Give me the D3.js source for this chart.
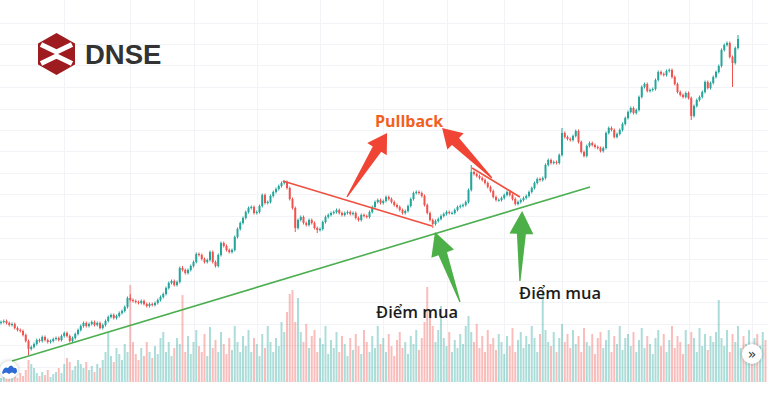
<!DOCTYPE html>
<html><head><meta charset="utf-8">
<script src="https://cdn.jsdelivr.net/npm/d3@7/dist/d3.min.js"></script>
<style>
html,body{margin:0;padding:0;background:#fff;}
svg{display:block;}
</style></head>
<body>
<svg id="chart" width="768" height="419"></svg>
<script>
// ---------- DATA ----------
const closes = [7.8,7.9,7.7,7.5,7.6,7.2,7.0,6.9,6.5,5.9,
5.1,5.3,5.6,6.0,5.9,6.3,6.0,5.8,5.9,6.1,
6.2,6.0,6.4,6.7,6.4,5.9,6.2,6.6,7.0,7.4,
7.7,7.4,7.6,7.8,7.5,7.7,7.2,7.5,7.9,8.3,
8.5,8.2,8.4,8.7,8.9,9.3,10.2,10.0,9.9,9.8,
9.7,9.9,9.6,9.4,9.6,9.5,9.7,10.0,10.3,10.6,
11.2,11.7,11.9,11.5,11.8,13.2,13.0,12.7,13.0,13.4,
13.8,14.6,14.5,14.1,13.8,14.0,14.8,13.8,13.4,14.5,
15.7,15.4,15.0,14.8,15.0,16.3,17.1,17.7,18.2,18.8,
19.2,19.3,18.7,18.8,19.4,20.5,19.7,19.8,20.4,20.8,
21.1,21.4,21.7,21.8,21.2,20.1,19.2,17.2,18.0,18.3,
17.7,17.5,18.0,17.7,17.2,17.0,17.1,17.8,18.3,18.5,
18.7,18.8,19.0,18.7,18.5,18.7,18.8,18.6,18.7,18.2,
18.0,18.5,18.4,18.3,18.8,19.3,19.8,20.0,19.7,19.9,
20.3,20.1,19.8,19.5,19.3,19.0,18.7,18.9,19.4,20.1,
20.7,20.8,20.7,20.4,19.5,18.7,18.0,17.6,17.9,18.1,
18.4,18.6,18.8,18.7,18.7,19.0,19.3,19.4,19.5,19.8,
21.0,22.8,22.6,22.4,22.2,22.0,21.7,21.3,20.9,20.3,
20.0,20.0,20.2,20.5,20.8,20.5,20.1,19.6,19.8,20.0,
20.2,20.4,20.8,21.2,21.7,22.1,22.0,22.2,23.5,24.0,
23.7,23.8,23.7,24.5,26.7,26.3,26.1,26.0,26.4,26.9,
25.8,24.8,24.4,25.4,25.7,25.5,25.3,25.2,24.9,25.2,
26.7,27.2,27.0,26.3,26.6,27.0,27.6,28.2,28.8,29.2,
28.7,29.0,30.3,31.3,31.6,30.9,31.0,31.1,32.0,32.8,
32.6,32.5,32.9,33.0,32.3,31.6,30.8,30.5,30.3,30.7,
30.2,28.4,29.4,30.0,30.3,30.8,31.8,31.2,31.7,32.3,
32.8,33.4,35.0,35.5,35.7,34.3,33.7,35.2,36.1];
const firstOpen = 7.7;
// notable long wicks
const wickExtremes = [
  {i:10, low:4.5},{i:47, high:10.6},{i:66, high:13.4},{i:107, low:16.8},{i:115, low:16.7},
  {i:157, low:17.2},{i:171, high:23.5},{i:204, high:27.2},{i:251, low:28.0},
  {i:266, low:31.3},{i:268, high:36.5}
];
const volumes = [4,6,3,8,5,7,4,9,6,12,
22,18,14,9,6,10,7,12,5,8,
10,14,9,18,24,20,12,16,22,18,
14,20,12,16,10,18,14,22,30,50,
26,20,34,28,22,38,30,97,40,28,
22,34,26,40,30,24,36,28,44,50,
30,40,26,34,44,38,87,30,46,28,
40,52,36,30,48,26,55,34,42,30,
50,38,28,44,32,56,40,30,46,36,
52,30,44,38,26,48,34,56,40,30,
44,36,60,50,70,88,92,60,84,50,
40,58,34,46,52,30,44,38,56,28,
42,34,50,30,46,38,26,44,32,48,
36,28,52,40,30,46,34,56,38,44,
30,48,36,26,42,50,34,40,28,46,
38,52,32,44,60,95,70,56,40,52,
76,44,36,50,30,42,34,48,38,56,
66,50,40,58,34,46,30,52,38,44,
32,48,40,28,46,36,54,30,42,50,
34,46,38,56,44,30,48,90,52,40,
36,50,30,44,58,40,48,34,52,38,
46,30,54,40,36,48,28,44,50,34,
42,52,30,46,38,56,32,44,48,36,
50,30,42,54,34,46,38,28,44,52,
36,48,30,42,56,34,46,40,28,52,
38,50,44,30,54,36,48,32,46,40,
50,82,44,36,52,30,48,40,56,34,
46,38,52,30,44,48,36,50,42];
// direction of the volume bars drawn past the last visible candle
const tailVolumeUp = [1,0,1,1,0,1,0,1,1,0];
// grid
const gridPrices = [37.75,35.6,33.45,31.3,29.15,27.0,24.85,22.7,20.55,18.4,16.25,14.1,11.95,9.8,7.65,5.5,3.35];
const gridCandles = [23,47,70,93,116,139,162,183,204,228,250,273];
// annotations (candle index, price)
const supportLine = [{i:4, p:3.9},{i:214.2, p:21.3}];
const pullbackLines = [
  [{i:102.5, p:21.9},{i:156.7, p:17.4}],
  [{i:171.3, p:23.2},{i:188.7, p:20.3}]
];
const redArrows = [
  {from:{i:125.8, p:20.3}, to:{i:140.4, p:26.7}},
  {from:{i:178.5, p:22.2}, to:{i:160.4, p:27.2}}
];
const greenArrows = [
  {from:{i:166.9, p:9.8}, to:{i:157.8, p:16.8}},
  {from:{i:188.7, p:11.9}, to:{i:189.5, p:18.9}}
];
const labels = [
  {text:"Pullback", i:148.4, p:27.3, kind:"pull"},
  {text:"Điểm mua", i:151.3, p:8.2, kind:"buy"},
  {text:"Điểm mua", i:203.3, p:10.1, kind:"buy"}
];

// ---------- BUILD ----------
const svg = d3.select("#chart");
const W = 768, H = 419;
const x = d3.scaleLinear().domain([0, 268]).range([1, 738]);
const y = d3.scaleLinear().domain([0, 40]).range([400, 0]);
const yv = d3.scaleLinear().domain([0, 100]).range([382, 282]);

const UP = "#26a69a", DN = "#ef5350";

const candles = closes.map((c, i) => {
  const o = i === 0 ? firstOpen : closes[i - 1];
  let hi = Math.max(o, c) + 0.15, lo = Math.min(o, c) - 0.15;
  const w = wickExtremes.find(e => e.i === i);
  if (w && w.high !== undefined) hi = w.high;
  if (w && w.low !== undefined) lo = w.low;
  return {i, o, h: hi, l: lo, c, up: c >= o};
});

// grid
const grid = svg.append("g").attr("stroke", "#f1f3f6").attr("stroke-width", 1);
grid.selectAll("line.h").data(gridPrices).enter().append("line")
  .attr("x1", 0).attr("x2", W)
  .attr("y1", d => Math.round(y(d)) + 0.5).attr("y2", d => Math.round(y(d)) + 0.5);
grid.selectAll("line.v").data(gridCandles).enter().append("line")
  .attr("y1", 0).attr("y2", 382)
  .attr("x1", d => Math.round(x(d)) + 0.5).attr("x2", d => Math.round(x(d)) + 0.5);

// volume
const vol = svg.append("g");
vol.selectAll("rect").data(volumes).enter().append("rect")
  .attr("x", (d, i) => x(i) - 1)
  .attr("width", 2)
  .attr("y", d => yv(d))
  .attr("height", d => yv(0) - yv(d))
  .attr("fill", (d, i) => {
    const up = i < candles.length ? candles[i].up : tailVolumeUp[i - candles.length] === 1;
    return up ? UP : DN;
  })
  .attr("fill-opacity", 0.38);

// candles
const cg = svg.append("g");
cg.selectAll("line").data(candles).enter().append("line")
  .attr("x1", d => x(d.i)).attr("x2", d => x(d.i))
  .attr("y1", d => y(d.h)).attr("y2", d => y(d.l))
  .attr("stroke", d => d.up ? UP : DN).attr("stroke-width", 1);
cg.selectAll("rect").data(candles).enter().append("rect")
  .attr("x", d => x(d.i) - 1)
  .attr("width", 2)
  .attr("y", d => y(Math.max(d.o, d.c)))
  .attr("height", d => Math.max(1, Math.abs(y(d.o) - y(d.c))))
  .attr("fill", d => d.up ? UP : DN);

// lines
const line = d3.line().x(d => x(d.i)).y(d => y(d.p));
svg.append("path").attr("d", line(supportLine))
  .attr("stroke", "#4caf50").attr("stroke-width", 1.6).attr("fill", "none");
pullbackLines.forEach(pl => {
  svg.append("path").attr("d", line(pl))
    .attr("stroke", "#f0503f").attr("stroke-width", 1.6).attr("fill", "none");
});

// arrows
function arrowPath(a, headLen, headHalf, shaftHalf) {
  const tx = x(a.from.i), ty = y(a.from.p), px = x(a.to.i), py = y(a.to.p);
  const L = Math.hypot(px - tx, py - ty);
  const dx = (px - tx) / L, dy = (py - ty) / L;
  const nx = -dy, ny = dx;
  const bx = px - dx * headLen, by = py - dy * headLen;
  const pts = [
    [tx + nx * 0.6, ty + ny * 0.6],
    [bx + nx * shaftHalf, by + ny * shaftHalf],
    [bx + nx * headHalf, by + ny * headHalf],
    [px, py],
    [bx - nx * headHalf, by - ny * headHalf],
    [bx - nx * shaftHalf, by - ny * shaftHalf],
    [tx - nx * 0.6, ty - ny * 0.6]
  ];
  return "M" + pts.map(p => p.join(",")).join("L") + "Z";
}
redArrows.forEach(a => {
  svg.append("path").attr("d", arrowPath(a, 19, 11.5, 5)).attr("fill", "#f04535");
});
greenArrows.forEach(a => {
  svg.append("path").attr("d", arrowPath(a, 23, 12, 4.5)).attr("fill", "#4caf47");
});

// labels
labels.forEach(l => {
  svg.append("text").text(l.text)
    .attr("x", x(l.i)).attr("y", y(l.p))
    .attr("text-anchor", "middle")
    .attr("font-family", "'Open Sans', 'Noto Sans', sans-serif")
    .attr("font-weight", l.kind === "pull" ? 700 : 600)
    .attr("font-size", l.kind === "pull" ? 16 : 16.5)
    .attr("fill", l.kind === "pull" ? "#f2601f" : "#1c1c1c");
});

// logo
const logo = svg.append("g");
logo.append("path").attr("d", "M56.5,33 L75,43.5 L75,64.5 L56.5,75 L38,64.5 L38,43.5 Z").attr("fill", "#9e1b20");
logo.append("path").attr("d", "M41,44.5 L56.5,52 L72,44.5").attr("stroke", "#fff").attr("stroke-width", 5).attr("fill", "none").attr("stroke-linejoin", "miter");
logo.append("path").attr("d", "M41,63.5 L56.5,56 L72,63.5").attr("stroke", "#fff").attr("stroke-width", 5).attr("fill", "none").attr("stroke-linejoin", "miter");
logo.append("text").text("DNSE").attr("x", 85).attr("y", 64)
  .attr("font-family", "'Liberation Sans', Arial, sans-serif").attr("font-weight", 700)
  .attr("font-size", 27.5).attr("fill", "#333333");

// bottom-left badge
const badge = svg.append("g").style("filter", "drop-shadow(0 0 2px rgba(0,0,0,0.25))");
badge.append("circle").attr("cx", 9).attr("cy", 370).attr("r", 9).attr("fill", "#fff");
svg.append("path").attr("d", "M2,373 Q4,366 8,368 Q11,363 14,368 Q17,367 17,372 L15,374 Q12,371 9,374 Q6,371 3,374 Z").attr("fill", "#2f6bd6");

// bottom-right button
const btn = svg.append("g").style("filter", "drop-shadow(0 0 2px rgba(0,0,0,0.25))");
btn.append("circle").attr("cx", 752).attr("cy", 354).attr("r", 10).attr("fill", "#fff");
svg.append("text").text("»").attr("x", 752).attr("y", 358.5).attr("text-anchor", "middle")
  .attr("font-family", "'DejaVu Sans', sans-serif").attr("font-size", 14).attr("fill", "#333");
</script>
</body></html>
